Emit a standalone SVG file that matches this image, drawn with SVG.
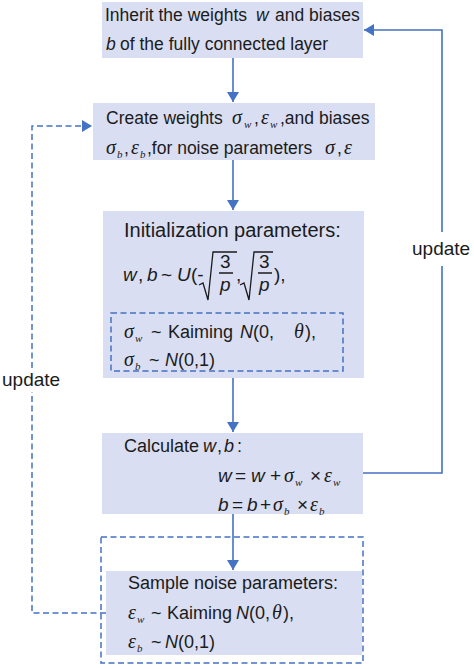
<svg xmlns="http://www.w3.org/2000/svg" width="474" height="669" viewBox="0 0 474 669">
<defs>
<style>
.box{fill:#d9def2}
.t{font-family:"Liberation Sans",Arial,sans-serif;font-size:18px;fill:#1b1b1b}
.h{font-size:17.5px}
.ti{font-size:20px}
.i{font-style:italic}
.m{font-family:"Liberation Serif","Times New Roman",serif;font-style:italic;font-size:20px}
.s{font-family:"Liberation Serif","Times New Roman",serif;font-style:italic;font-size:11px}
.e{font-size:19px}
.ln{stroke:#4472c4;stroke-width:1.6;fill:none}
.dash{stroke:#4472c4;stroke-width:1.5;fill:none;stroke-dasharray:6 3.5}
.rad{stroke:#1b1b1b;stroke-width:1.3;fill:none}
</style>
<marker id="ah" viewBox="0 0 10 12" markerWidth="10" markerHeight="12" refX="10" refY="6" orient="auto" markerUnits="userSpaceOnUse">
<path d="M0,0 L10,6 L0,12 z" fill="#4472c4"/>
</marker>
</defs>
<rect width="474" height="669" fill="#ffffff"/>

<g id="connectors">
<path class="ln" d="M233,58 V102" marker-end="url(#ah)"/>
<path class="ln" d="M233,160 V210" marker-end="url(#ah)"/>
<path class="ln" d="M233,378 V432" marker-end="url(#ah)"/>
<path class="ln" d="M233,514 V570" marker-end="url(#ah)"/>
<path class="ln" d="M363,473 H442 V266"/>
<path class="ln" d="M442,232 V30 H364" marker-end="url(#ah)"/>
<path class="dash" d="M106,613 H32 V392"/>
<path class="dash" d="M32,368 V126 H92" marker-end="url(#ah)"/>
<text class="t e" x="412" y="255">update</text>
<text class="t e" x="2" y="386">update</text>
</g>

<g id="node1">
<rect class="box" x="102" y="2" width="261" height="56"/>
<text class="t h" y="21"><tspan x="105">Inherit the weights</tspan><tspan x="256" class="i">w</tspan><tspan x="275">and biases</tspan></text>
<text class="t h" y="50"><tspan x="106" class="i">b</tspan><tspan x="120">of the fully connected layer</tspan></text>
</g>

<g id="node2">
<rect class="box" x="93" y="103" width="282" height="57"/>
<text class="t h"><tspan x="106" y="124">Create weights</tspan><tspan class="m" x="232" y="124">σ</tspan><tspan class="s" x="244" y="128">w</tspan><tspan x="254" y="124">,</tspan><tspan class="m" x="261" y="124">ε</tspan><tspan class="s" x="270" y="128">w</tspan><tspan x="280" y="124">,and biases</tspan></text>
<text class="t h"><tspan class="m" x="106" y="154">σ</tspan><tspan class="s" x="117" y="158">b</tspan><tspan x="124" y="154">,</tspan><tspan class="m" x="131" y="154">ε</tspan><tspan class="s" x="140" y="158">b</tspan><tspan x="147" y="154">,for noise parameters</tspan><tspan class="m" x="325" y="154">σ</tspan><tspan x="337" y="154">,</tspan><tspan class="m" x="344" y="154">ε</tspan></text>
</g>

<g id="node3">
<rect class="box" x="103" y="211" width="261" height="167"/>
<text class="t ti" x="124" y="237">Initialization parameters:</text>
<text class="t e"><tspan class="i" x="123" y="281">w</tspan><tspan x="138" y="281">,</tspan><tspan class="i" x="147" y="281">b</tspan><tspan x="161" y="281">~</tspan><tspan class="i" x="177" y="281">U</tspan><tspan x="191" y="281">(-</tspan><tspan x="220" y="268">3</tspan><tspan class="i" x="220" y="291">p</tspan><tspan x="236" y="281">,</tspan><tspan x="259" y="268">3</tspan><tspan class="i" x="259" y="291">p</tspan><tspan x="274" y="281">),</tspan></text>
<path class="rad" d="M199,285 L203,283 L208,300 L213,252 H237 M219,273 H233"/>
<path class="rad" d="M240,285 L244,283 L249,300 L254,252 H273 M258,273 H272"/>
<rect class="dash" x="111" y="313" width="232" height="58"/>
<text class="t"><tspan class="m" x="124" y="338">σ</tspan><tspan class="s" x="135" y="342">w</tspan><tspan x="151" y="338">~</tspan><tspan x="168" y="338">Kaiming</tspan><tspan class="i" x="240" y="338">N</tspan><tspan x="253" y="338">(</tspan><tspan x="259" y="338">0,</tspan><tspan class="m" x="294" y="338">θ</tspan><tspan x="305" y="338">),</tspan></text>
<text class="t"><tspan class="m" x="124" y="366">σ</tspan><tspan class="s" x="135" y="370">b</tspan><tspan x="149" y="366">~</tspan><tspan class="i" x="165" y="366">N</tspan><tspan x="178" y="366">(0,1)</tspan></text>
</g>

<g id="node4">
<rect class="box" x="102" y="433" width="261" height="81"/>
<text class="t"><tspan x="124" y="452">Calculate</tspan><tspan class="i" x="203" y="452">w</tspan><tspan x="217" y="452">,</tspan><tspan class="i" x="224" y="452">b</tspan><tspan x="237" y="452">:</tspan></text>
<text class="t e"><tspan class="i" x="218" y="482">w</tspan><tspan x="235" y="482">=</tspan><tspan class="i" x="251" y="482">w</tspan><tspan x="270" y="482">+</tspan><tspan class="m" x="284" y="482">σ</tspan><tspan class="s" x="295" y="486">w</tspan><tspan x="310" y="482">×</tspan><tspan class="m" x="324" y="482">ε</tspan><tspan class="s" x="333" y="486">w</tspan></text>
<text class="t e"><tspan class="i" x="218" y="511">b</tspan><tspan x="232" y="511">=</tspan><tspan class="i" x="247" y="511">b</tspan><tspan x="260" y="511">+</tspan><tspan class="m" x="273" y="511">σ</tspan><tspan class="s" x="284" y="515">b</tspan><tspan x="297" y="511">×</tspan><tspan class="m" x="310" y="511">ε</tspan><tspan class="s" x="319" y="515">b</tspan></text>
</g>

<g id="node5">
<rect class="dash" x="101" y="537" width="262" height="126"/>
<rect class="box" x="106" y="571" width="256" height="84"/>
<text class="t" x="128" y="589">Sample noise parameters:</text>
<text class="t"><tspan class="m" x="128" y="619">ε</tspan><tspan class="s" x="137" y="623">w</tspan><tspan x="151" y="619">~</tspan><tspan x="167" y="619">Kaiming</tspan><tspan class="i" x="236" y="619">N</tspan><tspan x="249" y="619">(0,</tspan><tspan class="m" x="272" y="619">θ</tspan><tspan x="283" y="619">),</tspan></text>
<text class="t"><tspan class="m" x="128" y="648">ε</tspan><tspan class="s" x="137" y="652">b</tspan><tspan x="151" y="648">~</tspan><tspan class="i" x="165" y="648">N</tspan><tspan x="178" y="648">(0,1)</tspan></text>
</g>
</svg>
